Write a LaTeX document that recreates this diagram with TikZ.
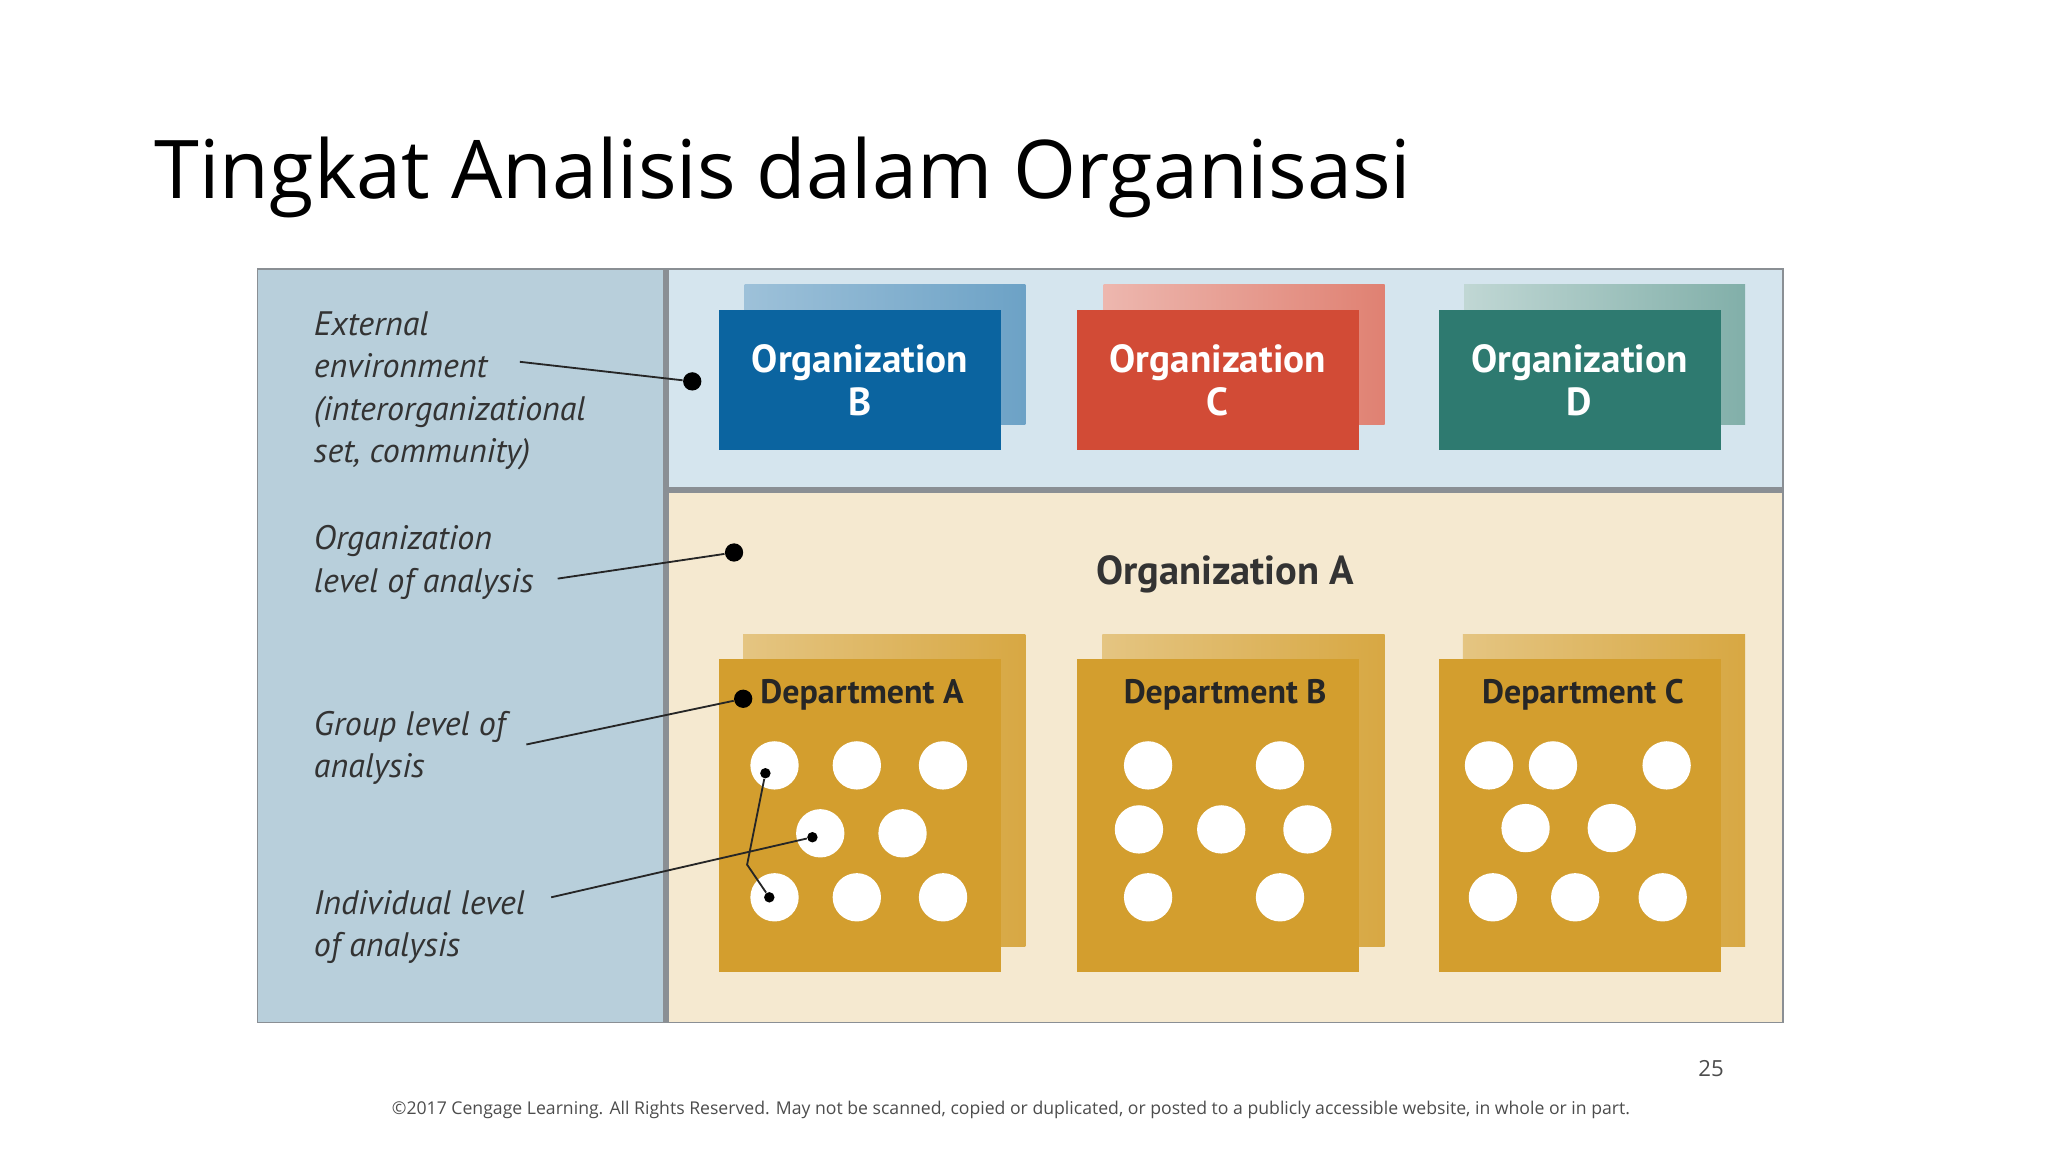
\documentclass[tikz,border=0pt]{standalone}
\usepackage{fontspec}
\setmainfont{Open Sans}
\newfontfamily\lab{PT Sans}
\usetikzlibrary{shadings}
\definecolor{leftp}{HTML}{B8CFDB}
\definecolor{topp}{HTML}{D5E5EE}
\definecolor{botp}{HTML}{F5E9D0}
\definecolor{divg}{HTML}{8A8F94}
\definecolor{orgB}{HTML}{0B64A0}
\definecolor{orgC}{HTML}{D24B36}
\definecolor{orgD}{HTML}{2E7A70}
\definecolor{dept}{HTML}{D39E2E}
\definecolor{txt}{HTML}{333333}
\tikzset{
 orgbox/.style={minimum width=108pt,minimum height=53.5pt,anchor=north west,inner sep=0pt,align=center,text=white,font=\lab\bfseries\fontsize{15}{16.5}\selectfont},
 deptbox/.style={fill=dept,minimum width=108pt,minimum height=120pt,anchor=north west,inner sep=0pt},
 sidelab/.style={anchor=north west,align=left,text=txt,font=\lab\itshape\fontsize{13}{16.3}\selectfont,inner sep=0pt},
 person/.style={circle,fill=white,minimum size=18.5pt,inner sep=0pt},
 pin/.style={circle,fill=black,minimum size=7pt,inner sep=0pt},
 smallpin/.style={circle,fill=black,minimum size=4pt,inner sep=0pt},
 ptr/.style={draw=black!85,line width=0.7pt}
}
\begin{document}
\begin{tikzpicture}[x=0.5pt,y=-0.5pt]
\useasboundingbox (0,0) rectangle (1568,882);
\node[anchor=base west,inner sep=0pt,font=\fontsize{31}{36}\selectfont] (title) at (118,152) {Tingkat Analisis dalam Organisasi};
% panels
\fill[leftp] (197,206) rectangle (510,783);
\fill[topp] (512,206) rectangle (1365,374);
\fill[botp] (512,377) rectangle (1365,783);
\draw[divg,line width=2.5pt] (510,206) -- (510,783);
\draw[divg,line width=2.5pt] (512,375) -- (1365,375);
\draw[divg,line width=0.6pt] (197,206) rectangle (1365,783);
% organizations
\shade[left color=white!60!orgB,right color=orgB!60] (570,218) rectangle (785,325);
\shade[left color=white!60!orgC,right color=orgC!70] (845,218) rectangle (1060,325);
\shade[left color=white!70!orgD,right color=orgD!60] (1121,218) rectangle (1336,325);
\node[orgbox,fill=orgB] (ob) at (550,237) {Organization\\B};
\node[orgbox,fill=orgC] (oc) at (824,237) {Organization\\C};
\node[orgbox,fill=orgD] (od) at (1101,237) {Organization\\D};
\node[font=\lab\bfseries\fontsize{15.5}{17}\selectfont,text=txt] (oa) at (938,440) {Organization A};
% departments
\foreach \x in {569,844,1120}{
 \shade[left color=dept!60!white,right color=dept!90] (\x,486) rectangle (\x+216,725);}
\node[deptbox] (da) at (550,504) {};
\node[deptbox] (db) at (824,504) {};
\node[deptbox] (dc) at (1101,504) {};
\node[font=\lab\bfseries\fontsize{13}{15}\selectfont,text=black!85] (dat) at (660,532) {Department A};
\node[font=\lab\bfseries\fontsize{13}{15}\selectfont,text=black!85] (dbt) at (938,532) {Department B};
\node[font=\lab\bfseries\fontsize{13}{15}\selectfont,text=black!85] (dct) at (1212,532) {Department C};
% people
\foreach \n/\x/\y in {a1/593/586,a2/656/586,a3/722/586,a4/628/638,a5/691/638,a6/593/687,a7/656/687,a8/722/687,
 b1/879/586,b2/980/586,b3/872/635,b4/935/635,b5/1001/635,b6/879/687,b7/980/687,
 c1/1140/586,c2/1189/586,c3/1276/586,c4/1168/634,c5/1234/634,c6/1143/687,c7/1206/687,c8/1273/687}
 \node[person] (\n) at (\x,\y) {};
% side labels
\node[sidelab] (l1) at (240,238) {External\\environment\\(interorganizational\\set, community)};
\node[sidelab] (l2) at (240,402) {Organization\\level of analysis};
\node[sidelab] (l3) at (240,544) {Group level of\\analysis};
\node[sidelab] (l4) at (240,681) {Individual level\\of analysis};
% pointers
\node[pin] (p1) at (530,292) {};
\node[pin] (p2) at (562,423) {};
\node[pin] (p3) at (569,535) {};
\node[smallpin] (p4) at (622,641) {};
\node[smallpin] (p5) at (586,592) {};
\node[smallpin] (p6) at (589,687) {};
\coordinate (e1) at (398,277);
\coordinate (e2) at (427,443);
\coordinate (e3) at (403,570);
\coordinate (e4) at (422,687);
\coordinate (k) at (572,662);
\draw[ptr] (e1) -- (p1);
\draw[ptr] (e2) -- (p2);
\draw[ptr] (e3) -- (p3);
\draw[ptr] (e4) -- (p4);
\draw[ptr] (p5) -- (k) -- (p6);
\node[font=\fontsize{8.5}{10}\selectfont,text=black!70] (pg) at (1310,818) {25};
\node[font=\fontsize{6.75}{8}\selectfont,text=black!70] (cr) at (774,850) {©2017 Cengage Learning. All Rights Reserved. May not be scanned, copied or duplicated, or posted to a publicly accessible website, in whole or in part.};
\end{tikzpicture}
\end{document}
